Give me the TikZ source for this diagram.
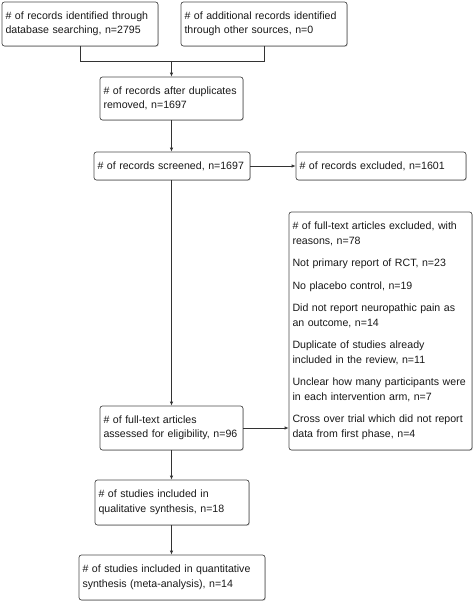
\documentclass[tikz,border=0pt]{standalone}
\usepackage{fontspec}
\setmainfont{Liberation Sans}
\usetikzlibrary{arrows.meta,shadows}
\begin{document}
\begin{tikzpicture}[x=1pt,y=-1pt,
  box/.style={draw=black!70,line width=0.7pt,rounded corners=2.5pt,fill=white,
    drop shadow={shadow xshift=0.8pt,shadow yshift=-0.8pt,opacity=0.35},
    align=left,inner xsep=3.5pt,inner ysep=0pt,
    font=\fontsize{10.6}{14.5}\selectfont,text=black!90},
  conn/.style={draw=black!80,line width=0.7pt},
  arr/.style={conn,-{Latex[length=4pt,width=3.5pt]}}]
\useasboundingbox (0,0) rectangle (474,602);
\node[box,minimum width=156,minimum height=44,text width=149] (b1) at (80,24)
  {\# of records identified through\\database searching, n=2795};
\node[box,minimum width=166,minimum height=44,text width=159] (b2) at (264,24)
  {\# of additional records identified\\through other sources, n=0};
\node[box,minimum width=143,minimum height=43,text width=136] (b3) at (171.5,98.5)
  {\# of records after duplicates\\removed, n=1697};
\node[box,minimum width=156,minimum height=28,text width=149] (b4) at (172,166)
  {\# of records screened, n=1697};
\node[box,minimum width=170,minimum height=28,text width=163] (b5) at (381,166)
  {\# of records excluded, n=1601};
\node[box,minimum width=143,minimum height=44,text width=136] (b6) at (171.5,428)
  {\# of full-text articles\\assessed for eligibility, n=96};
\node[box,minimum width=183,minimum height=238,text width=176] (b7) at (380.5,331)
  {\# of full-text articles excluded, with\\reasons, n=78\\[8pt]
   Not primary report of RCT, n=23\\[8pt]
   No placebo control, n=19\\[8pt]
   Did not report neuropathic pain as\\an outcome, n=14\\[8pt]
   Duplicate of studies already\\included in the review, n=11\\[8pt]
   Unclear how many participants were\\in each intervention arm, n=7\\[8pt]
   Cross over trial which did not report\\data from first phase, n=4};
\node[box,minimum width=154,minimum height=45,text width=147] (b8) at (172,502.5)
  {\# of studies included in\\qualitative synthesis, n=18};
\node[box,minimum width=186,minimum height=45,text width=179] (b9) at (172,577.5)
  {\# of studies included in quantitative\\synthesis (meta-analysis), n=14};
\coordinate (j1) at (80,61);
\coordinate (j2) at (264,61);
\coordinate (jm) at (171.5,61);
\draw[conn] (b1.south) -- (j1) -- (j2) -- (b2.south);
\draw[arr] (jm) -- (b3.north);
\draw[arr] (b3.south) -- (b4.north -| b3.south);
\draw[arr] (b4.east) -- (b5.west);
\draw[arr] (b4.south -| b6.north) -- (b6.north);
\draw[arr] (b6.east) -- (b6.east -| b7.west);
\draw[arr] (b6.south) -- (b8.north -| b6.south);
\draw[arr] (b8.south -| b6.south) -- (b9.north -| b6.south);
\end{tikzpicture}
\end{document}
